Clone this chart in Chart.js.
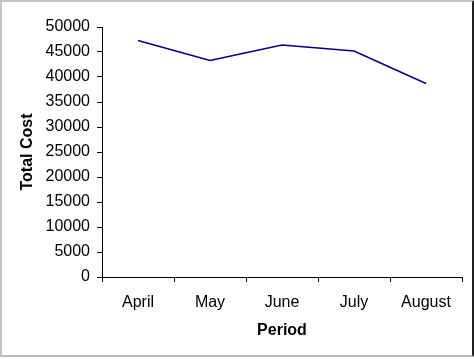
<!DOCTYPE html>
<html>
<head>
<meta charset="utf-8">
<script src="https://cdn.jsdelivr.net/npm/chart.js@4/dist/chart.umd.min.js"></script>
<style>
  html, body { margin: 0; padding: 0; background: #fff; }
  #frame {
    position: absolute; left: 0; top: 0;
    width: 470px; height: 353px;
    border-left: 2px solid #c4c4c4;
    border-top: 2px solid #c4c4c4;
    border-right: 2px solid #222;
    border-bottom: 2px solid #b8b8b8;
    background: #fff;
  }
  canvas { display: block; }
</style>
</head>
<body>
<div id="frame"><canvas id="c" width="470" height="353"></canvas></div>
<script>
const categories = ["April", "May", "June", "July", "August"];
const totalCost = [47300, 43300, 46400, 45200, 38700];
const yMin = 0, yMax = 50000, yStep = 5000;
const xTitle = "Period";
const yTitle = "Total Cost";

const FONT = '"Liberation Sans", Arial, sans-serif';

new Chart(document.getElementById('c'), {
  type: 'line',
  data: {
    labels: categories,
    datasets: [{
      data: totalCost,
      borderColor: '#000080',
      borderWidth: 1.5,
      pointRadius: 0,
      tension: 0,
      fill: false
    }]
  },
  options: {
    responsive: false,
    animation: false,
    layout: { padding: { left: 12, right: 10, top: 25, bottom: 11 } },
    plugins: { legend: { display: false }, tooltip: { enabled: false } },
    scales: {
      x: {
        offset: true,
        grid: { offset: true, drawOnChartArea: false, drawTicks: true, tickLength: 5, color: '#000', lineWidth: 1 },
        border: { display: true, color: '#000', width: 1 },
        ticks: { color: '#000', font: { family: FONT, size: 16 }, padding: 11, maxRotation: 0 },
        title: { display: true, text: xTitle, color: '#000', font: { family: FONT, size: 16, weight: 'bold' }, padding: 4 },
        afterFit: s => { s.height = 67; }
      },
      y: {
        min: yMin, max: yMax,
        grid: { drawOnChartArea: false, drawTicks: true, tickLength: 5, color: '#000', lineWidth: 1 },
        border: { display: true, color: '#000', width: 1 },
        ticks: { stepSize: yStep, color: '#000', font: { family: FONT, size: 16 }, padding: 7,
                 callback: v => String(v) },
        title: { display: true, text: yTitle, color: '#000', font: { family: FONT, size: 16, weight: 'bold' }, padding: 4 },
        afterFit: s => { s.width = 88; }
      }
    }
  }
});
</script>
</body>
</html>
